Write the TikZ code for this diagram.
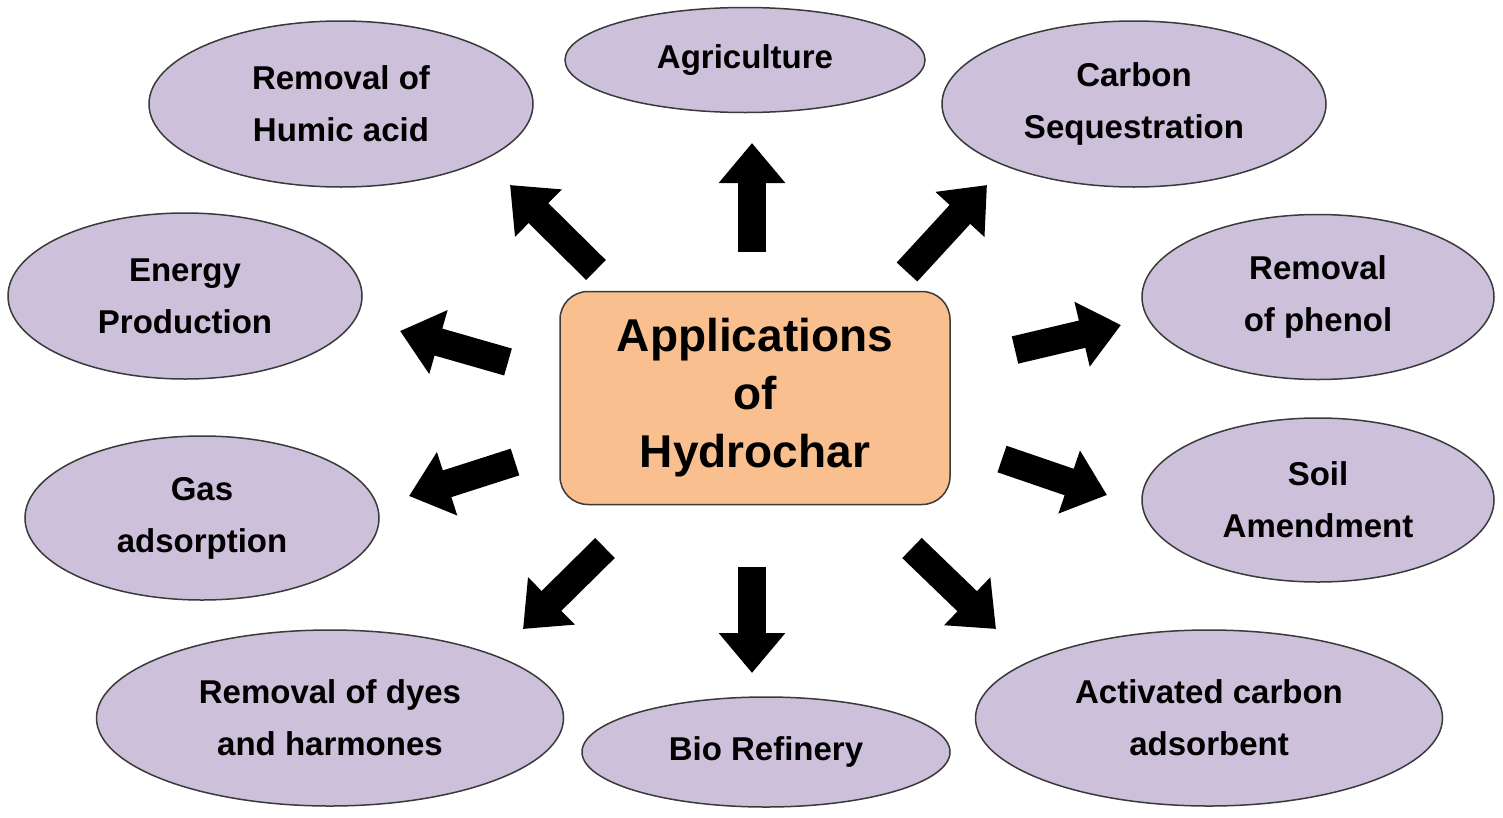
\documentclass[tikz,border=0pt]{standalone}
\usepackage{fontspec}
\setmainfont{Liberation Sans}
\usetikzlibrary{arrows.meta,shapes.geometric}
\definecolor{lav}{HTML}{CCC0DA}
\definecolor{org}{HTML}{F9BF8F}
\definecolor{edge}{HTML}{3A3A3A}
\tikzset{
 ell/.style={draw=edge,line width=1.5pt,fill=lav,ellipse,inner sep=0pt,align=center,font=\fontsize{33}{52}\selectfont\bfseries},
 barrow/.style={line width=28pt,-{Triangle[width=64pt,length=40pt]}},
}
\begin{document}
\begin{tikzpicture}[x=1pt,y=-1pt]
\useasboundingbox (0,0) rectangle (1503,817);
\node[ell,minimum width=384pt,minimum height=166pt] (humic) at (341,104) {Removal of\\Humic acid};
\node[ell,minimum width=360pt,minimum height=105pt] (agri) at (745,60) {Agriculture};
\node[ell,minimum width=384pt,minimum height=166pt] (carbon) at (1134,104) {Carbon\\Sequestration};
\node[ell,minimum width=354pt,minimum height=166pt] (energy) at (185,296) {Energy\\Production};
\node[ell,minimum width=352pt,minimum height=165pt] (phenol) at (1318,297) {Removal\\of phenol};
\node[ell,minimum width=354pt,minimum height=164pt] (gas) at (202,518) {Gas\\adsorption};
\node[ell,minimum width=352pt,minimum height=164pt] (soil) at (1318,500) {Soil\\Amendment};
\node[ell,minimum width=467pt,minimum height=176pt] (dyes) at (330,718) {Removal of dyes\\and harmones};
\node[ell,minimum width=368pt,minimum height=110pt] (bio) at (766,752) {Bio Refinery};
\node[ell,minimum width=467pt,minimum height=176pt] (act) at (1209,718) {Activated carbon\\adsorbent};
\node[draw=edge,line width=1.5pt,fill=org,rounded corners=28pt,minimum width=390pt,minimum height=213pt,align=center,font=\fontsize{46}{58}\selectfont\bfseries] (c) at (755,398) {Applications\\of\\Hydrochar};
\foreach \n/\a/\b in {a1/752,252, a2/598,268, a3/905,270, a4/508,362, a5/1015,350, a6/515,462, a7/1000,458, a8/603,548, a9/752,567, a10/912,548}{}
\coordinate (t1) at (752,252); \coordinate (h1) at (752,143);
\coordinate (t2) at (596,270); \coordinate (h2) at (510,185);
\coordinate (t3) at (907,272); \coordinate (h3) at (987,185);
\coordinate (t4) at (508,362); \coordinate (h4) at (400,331);
\coordinate (t5) at (1015,350); \coordinate (h5) at (1121,325);
\coordinate (t6) at (515,462); \coordinate (h6) at (409,496);
\coordinate (t7) at (1002,459); \coordinate (h7) at (1107,495);
\coordinate (t8) at (605,548); \coordinate (h8) at (523,629);
\coordinate (t9) at (752,567); \coordinate (h9) at (752,673);
\coordinate (t10) at (912,548); \coordinate (h10) at (996,629);
\foreach \i in {1,...,10}{\draw[barrow] (t\i) -- (h\i);}
\end{tikzpicture}
\end{document}
